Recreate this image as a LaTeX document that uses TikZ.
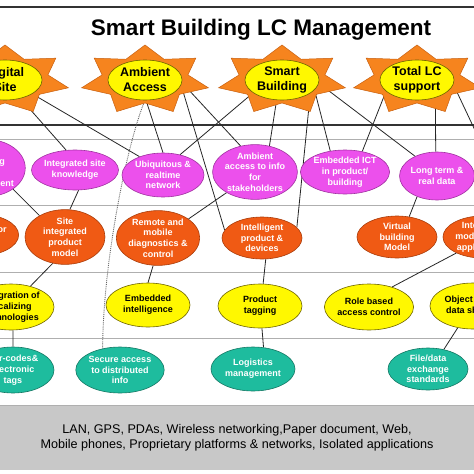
\documentclass[tikz,border=0pt]{standalone}
\usepackage{fontspec}
\setmainfont{Liberation Sans}
\usetikzlibrary{shapes.geometric}
\pgfdeclarelayer{back}
\pgfdeclarelayer{lines}
\pgfsetlayers{back,lines,main}
\definecolor{starO}{RGB}{246,132,30}
\definecolor{starE}{RGB}{200,95,15}
\definecolor{yel}{RGB}{255,248,0}
\definecolor{yelE}{RGB}{110,100,0}
\definecolor{mag}{RGB}{236,80,236}
\definecolor{magE}{RGB}{160,50,160}
\definecolor{orr}{RGB}{240,90,20}
\definecolor{orrE}{RGB}{170,60,10}
\definecolor{tea}{RGB}{30,188,158}
\definecolor{teaE}{RGB}{20,120,100}
\definecolor{boxg}{RGB}{200,200,200}
\definecolor{lineg}{RGB}{175,175,175}
\newcommand\mystarpoly[1]{%
  \draw[starst,shift={(#1)}] (90:65pt and 35pt)
    \foreach \k in {1,...,6} {-- ({90-25.714+\k*51.428}:44pt and 23pt) -- ({90+\k*51.428}:65pt and 35pt)}
    -- ({90-25.714}:44pt and 23pt) -- cycle;}
\tikzset{
  starst/.style={fill=starO, draw=starE, line width=0.5pt},
  sn/.style={ellipse, minimum width=74pt, minimum height=40pt, inner sep=0pt, align=center,
    fill=yel, draw=yelE, line width=0.6pt, font=\fontsize{12.5}{15}\selectfont\bfseries},
  ell/.style 2 args={ellipse, minimum width=#1pt, minimum height=#2pt, inner sep=0pt, align=center,
    line width=0.6pt, font=\fontsize{9}{10.7}\selectfont\bfseries},
  fmag/.style={fill=mag, draw=magE, text=white},
  fora/.style={fill=orr, draw=orrE, text=white},
  fyel/.style={fill=yel, draw=yelE, text=black},
  ftea/.style={fill=tea, draw=teaE, text=white},
  cn/.style={draw=black!85, line width=0.8pt},
  dt/.style={draw=black!60, line width=0.9pt, densely dotted},
  hdark/.style={draw=black!80, line width=1.1pt},
  hgray/.style={draw=lineg, line width=0.9pt},
}
\begin{document}
\begin{tikzpicture}[x=1pt,y=-1pt]
\useasboundingbox (0,0) rectangle (474,474);
\begin{pgfonlayer}{back}
\fill[white] (0,0) rectangle (474,474);
\end{pgfonlayer}

% title
\node[anchor=base, font=\fontsize{22.5}{26}\selectfont\bfseries] (title) at (261,35) {Smart Building LC Management};

% stars
\mystarpoly{5,80}
\mystarpoly{145,80}
\mystarpoly{282,80}
\mystarpoly{417,80}
\node[sn] (dig) at (5,80) {Digital\\Site};
\node[sn] (amb) at (145,80) {Ambient\\Access};
\node[sn] (smb) at (282,80) {Smart\\Building};
\node[sn] (tlc) at (417,80) {Total LC\\support};
\coordinate (offr) at (489,160);

% row A
\node[ell={72}{51}, fmag] (a1) at (-14,168) {Site\\planning\\\&\\management};
\node[ell={84}{40}, fmag] (a2) at (75,170) {Integrated site\\knowledge};
\node[ell={82}{44}, fmag] (a3) at (163,175) {Ubiquitous \&\\realtime\\network};
\node[ell={84}{46}, fmag] (a4) at (255,172) {Ambient\\access to info\\for\\stakeholders};
\node[ell={82}{44}, fmag] (a5) at (345,172) {Embedded ICT\\in product/\\building};
\node[ell={72}{48}, fmag] (a6) at (437,176) {Long term \&\\real data};

% row B
\node[ell={80}{42}, fora] (b1) at (-22,235) {Smart sensor\\network};
\node[ell={80}{42}, fora] (b2) at (65,237) {Site\\integrated\\product\\model};
\node[ell={80}{44}, fora] (b3) at (158,238) {Remote and\\mobile\\diagnostics \&\\control};
\node[ell={80}{42}, fora] (b4) at (262,238) {Intelligent\\product \&\\devices};
\node[ell={80}{42}, fora] (b5) at (397,237) {Virtual\\building\\Model};
\node[ell={80}{42}, fora] (b6) at (483,237) {Intelligent\\model based\\applications};

% row C
\node[ell={86}{46}, fyel] (c1) at (11,307) {Integration of\\localizing\\technologies};
\node[ell={84}{44}, fyel] (c2) at (148,305) {Embedded\\intelligence};
\node[ell={84}{44}, fyel] (c3) at (260,306) {Product\\tagging};
\node[ell={84}{46}, fyel] (c4) at (369,307) {Role based\\access control};
\node[ell={86}{46}, fyel] (c5) at (473,306) {Object based\\data sharing};

% row D
\node[ell={82}{46}, ftea] (d1) at (13,370) {Bar-codes\&\\electronic\\tags};
\node[ell={84}{46}, ftea] (d2) at (120,370) {Secure access\\to distributed\\info};
\node[ell={84}{44}, ftea] (d3) at (253,369) {Logistics\\management};
\node[ell={80}{42}, ftea] (d4) at (428,369) {File/data\\exchange\\standards};

% bottom box
\fill[boxg] (0,405) rectangle (474,470);
\draw[hgray] (0,405) -- (474,405);
\node[align=center, font=\fontsize{12.6}{15}\selectfont] (base) at (237,437.5)
  {LAN, GPS, PDAs, Wireless networking,Paper document, Web,\\Mobile phones, Proprietary platforms \& networks, Isolated applications};

\begin{pgfonlayer}{lines}
\draw[hdark] (0,7) -- (474,7);
\draw[hdark] (0,125) -- (474,125);
\draw[hgray] (0,139) -- (474,139);
\draw[hgray] (0,205) -- (474,205);
\draw[hgray] (0,272) -- (474,272);
\draw[hgray] (0,338) -- (474,338);

\draw[cn] (dig.-27) -- (a3.142);
\draw[cn] (dig.-50) -- (a2.114);
\draw[dt] (amb.south) .. controls (128,140) and (103,260) .. (d2.129);
\draw[cn] (amb.-87) -- (a3.north);
\draw[cn] (amb.-8) -- (b4.168);
\draw[cn] (amb.-4) -- (a4.119);
\draw[cn] (smb.204) -- (a3.50);
\draw[cn] (smb.-105) -- (a4.61);
\draw[cn] (smb.-25) -- (b4.17);
\draw[cn] (smb.-17) -- (a5.125);
\draw[cn] (smb.-5) -- (a6.138);
\draw[cn] (tlc.-160) -- (a5.50);
\draw[cn] (tlc.-44) -- (a6.93);
\draw[cn] (tlc.-7) -- (offr);
\draw[cn] (a1.-38) -- (b2.140);
\draw[cn] (a2.-80) -- (b2.80);
\draw[cn] (a4.-144) -- (b3.32);
\draw[cn] (a6.-134) -- (b5.59);
\draw[cn] (b2.-115) -- (c1.47);
\draw[cn] (b3.-100) -- (c2.north);
\draw[cn] (b4.-80) -- (c3.82);
\draw[cn] (b6.-149) -- (c4.41);
\draw[cn] (c1.-85) -- (d1.north);
\draw[cn] (c3.-85) -- (d3.64);
\draw[cn] (c5.-125) -- (d4.51);
\end{pgfonlayer}
\end{tikzpicture}
\end{document}
